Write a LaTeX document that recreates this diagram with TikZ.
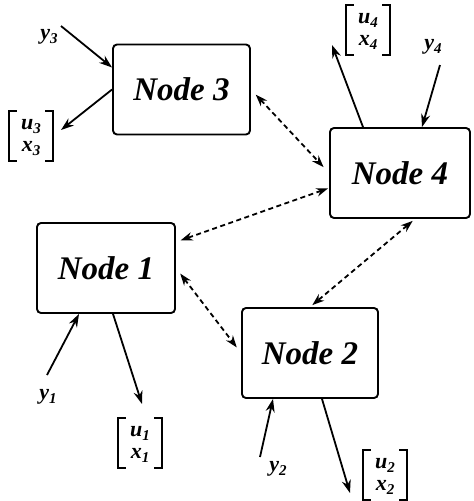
\documentclass[tikz,border=0pt]{standalone}
\usepackage{fontspec}
\setmainfont{Liberation Serif}
\usetikzlibrary{arrows.meta,calc}
\newcommand{\sv}[2]{{\bfseries\itshape #1\raisebox{-0.4ex}{\fontsize{15}{15}\selectfont #2}}}
\newcommand{\uxm}[1]{\begin{tabular}{@{}c@{}}\sv{u}{#1}\\[-1pt]\sv{x}{#1}\end{tabular}}
\tikzset{
  box/.style={draw, line width=1.9pt, rounded corners=4pt, minimum width=137pt, minimum height=90pt,
    font=\fontsize{33}{36}\selectfont\bfseries\itshape, inner sep=0pt},
  lbl/.style={font=\fontsize{22}{23}\selectfont, inner sep=0pt},
  mat/.style={lbl, minimum width=44pt, minimum height=50pt, yshift=-1pt,
    append after command={\pgfextra{\draw[line width=2.2pt, line cap=butt]
      ($(\tikzlastnode.north west)+(8,0)$) -| (\tikzlastnode.south west) -- ++(8,0)
      ($(\tikzlastnode.north east)+(-8,0)$) -| (\tikzlastnode.south east) -- ++(-8,0);}}},
  sarr/.style={line width=1.8pt, -{Stealth[length=13pt,width=9pt]}},
  darr/.style={line width=1.8pt, dash pattern=on 5pt off 3.5pt, {Stealth[length=12pt,width=8.5pt]}-{Stealth[length=12pt,width=8.5pt]}}
}
\begin{document}
\begin{tikzpicture}[x=1pt,y=-1pt]
\useasboundingbox (0,0) rectangle (474,501);
\node[box] (n3) at (181.5,89.5) {Node 3};
\node[box, minimum width=140pt] (n4) at (400,173) {Node 4};
\node[box, minimum width=138pt] (n1) at (106,268) {Node 1};
\node[box, minimum width=136pt] (n2) at (310,353) {Node 2};

\node[lbl] (y3) at (49,37) {\sv{y}{3}};
\node[mat] (m3) at (31,135) {\uxm{3}};
\node[mat] (m4) at (368,29) {\uxm{4}};
\node[lbl] (y4) at (433,47) {\sv{y}{4}};
\node[lbl] (y1) at (48,397) {\sv{y}{1}};
\node[mat] (m1) at (140,442) {\uxm{1}};
\node[lbl] (y2) at (278,469) {\sv{y}{2}};
\node[mat] (m2) at (385,474) {\uxm{2}};

\coordinate (e4) at (332,45);
\coordinate (e2) at (350,493);
\coordinate (s3) at (61,26);
\coordinate (s4) at (440,65);
\coordinate (s1) at (47,375);
\coordinate (s2) at (260,457);
\coordinate (e3) at (61,130);
\coordinate (e1) at (142,404);

\draw[sarr] (s3) -- ($(n3.west)+(0,-22)$);
\draw[sarr] (n3.west) -- (e3);
\draw[sarr] ($(n4.north)+(-37,0)$) -- (e4);
\draw[sarr] (s4) -- ($(n4.north)+(22,0)$);
\draw[sarr] (s1) -- ($(n1.south)+(-27,0)$);
\draw[sarr] ($(n1.south)+(7,0)$) -- (e1);
\draw[sarr] (s2) -- ($(n2.south)+(-37,0)$);
\draw[sarr] ($(n2.south)+(12,0)$) -- (e2);

\draw[darr, shorten <=7pt, shorten >=8pt] (n3.east) -- (n4.west);
\draw[darr, shorten <=1pt, shorten >=5pt] ($(n4.west)+(0,15)$) -- ($(n1.east)+(0,-26)$);
\draw[darr, shorten <=7pt, shorten >=7pt] (n1.east) -- (n2.west);
\draw[darr, shorten <=3pt, shorten >=3pt] ($(n4.south)+(15,0)$) -- (n2.north);
\end{tikzpicture}
\end{document}
